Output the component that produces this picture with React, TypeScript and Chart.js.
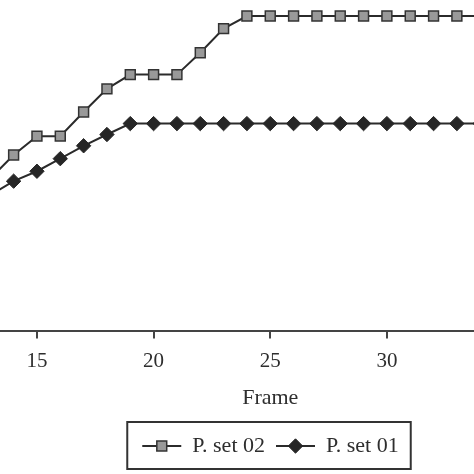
import React, { useEffect, useRef } from "react";
import { Chart, registerables } from "chart.js";

Chart.register(...registerables);

// ---- data ----
const frames = [13, 14, 15, 16, 17, 18, 19, 20, 21, 22, 23, 24, 25, 26, 27, 28, 29, 30, 31, 32, 33, 34];
const pSet02 = [46.2, 53.3, 59.0, 59.0, 66.3, 73.3, 77.6, 77.6, 77.6, 84.2, 91.5, 95.3, 95.3, 95.3, 95.3, 95.3, 95.3, 95.3, 95.3, 95.3, 95.3, 95.3];
const pSet01 = [41.2, 45.4, 48.4, 52.2, 56.1, 59.5, 62.8, 62.8, 62.8, 62.8, 62.8, 62.8, 62.8, 62.8, 62.8, 62.8, 62.8, 62.8, 62.8, 62.8, 62.8, 62.8];
const seriesLabels = ["P. set 02", "P. set 01"];
const xTitle = "Frame";
const xRange = [0, 50];
const xStep = 5;
const yRange = [0, 100];

const FONT = "'Liberation Serif', 'Times New Roman', serif";
const INK = "#2b2b2b";
const TEXT = "#2e2e2e";
const BOX_W = 39;

function drawMarker(ctx: CanvasRenderingContext2D, kind: string, x: number, y: number, r: number, fill: string, stroke: string, bw: number) {
  ctx.beginPath();
  if (kind === "rect") {
    const s = Math.SQRT1_2 * r;
    ctx.rect(x - s, y - s, 2 * s, 2 * s);
  } else {
    ctx.moveTo(x - r, y);
    ctx.lineTo(x, y - r);
    ctx.lineTo(x + r, y);
    ctx.lineTo(x, y + r);
    ctx.closePath();
  }
  ctx.fillStyle = fill;
  ctx.fill();
  ctx.lineWidth = bw;
  ctx.strokeStyle = stroke;
  ctx.stroke();
}

const legendFramePlugin = {
  id: "legendFrame",
  afterDraw(chart: any) {
    const lg = chart.legend;
    if (!lg || !lg.legendHitBoxes || !lg.legendHitBoxes.length) return;
    const hb = lg.legendHitBoxes;
    const ctx: CanvasRenderingContext2D = chart.ctx;
    ctx.save();
    let cy = 0;
    hb.forEach((b: any, i: number) => {
      const ds = chart.data.datasets[i];
      cy = b.top + b.height / 2;
      ctx.beginPath();
      ctx.moveTo(b.left, cy);
      ctx.lineTo(b.left + BOX_W, cy);
      ctx.lineWidth = 2;
      ctx.strokeStyle = INK;
      ctx.stroke();
      drawMarker(ctx, ds.pointStyle, b.left + BOX_W / 2, cy, ds.pointRadius, ds.pointBackgroundColor, ds.pointBorderColor, ds.pointBorderWidth);
    });
    const first = hb[0];
    const last = hb[hb.length - 1];
    const left = first.left - 15;
    const right = last.left + last.width + 12;
    ctx.lineWidth = 2;
    ctx.strokeStyle = "#333";
    ctx.strokeRect(left, cy - 24, right - left, 47);
    ctx.restore();
  },
};

export default function App() {
  const ref = useRef<HTMLCanvasElement | null>(null);

  useEffect(() => {
    if (!ref.current) return;
    const chart = new Chart(ref.current, {
      type: "line",
      data: {
        datasets: [
          {
            label: seriesLabels[0],
            data: frames.map((f, i) => ({ x: f, y: pSet02[i] })),
            borderColor: INK,
            borderWidth: 2,
            pointStyle: "rect",
            pointRadius: 7,
            pointBackgroundColor: "#999999",
            pointBorderColor: "#333333",
            pointBorderWidth: 1.5,
            fill: false,
            tension: 0,
          },
          {
            label: seriesLabels[1],
            data: frames.map((f, i) => ({ x: f, y: pSet01[i] })),
            borderColor: INK,
            borderWidth: 2,
            pointStyle: "rectRot",
            pointRadius: 7.2,
            pointBackgroundColor: "#262626",
            pointBorderColor: "#262626",
            pointBorderWidth: 1,
            fill: false,
            tension: 0,
          },
        ],
      },
      options: {
        animation: false,
        responsive: true,
        maintainAspectRatio: false,
        layout: { padding: { left: 20, right: 20, top: 0, bottom: 7 } },
        scales: {
          x: {
            type: "linear",
            min: xRange[0],
            max: xRange[1],
            grid: { drawOnChartArea: false, drawTicks: true, tickLength: 7, color: "#444", lineWidth: 2 },
            border: { display: true, color: "#444", width: 2 },
            ticks: {
              stepSize: xStep,
              autoSkip: false,
              maxRotation: 0,
              padding: 10,
              color: TEXT,
              font: { family: FONT, size: 21 },
            },
            title: {
              display: true,
              text: xTitle,
              color: TEXT,
              font: { family: FONT, size: 22 },
              padding: { top: 1, bottom: 13 },
            },
          },
          y: {
            display: false,
            min: yRange[0],
            max: yRange[1],
          },
        },
        plugins: {
          tooltip: { enabled: false },
          legend: {
            display: true,
            position: "bottom",
            labels: {
              boxWidth: BOX_W,
              boxHeight: 22,
              padding: 11,
              color: TEXT,
              font: { family: FONT, size: 22 },
              generateLabels: (c: any) =>
                Chart.defaults.plugins.legend.labels.generateLabels(c).map((l: any) => ({
                  ...l,
                  fillStyle: "rgba(0,0,0,0)",
                  strokeStyle: "rgba(0,0,0,0)",
                  lineWidth: 0,
                })),
            },
          },
        },
      },
      plugins: [legendFramePlugin],
    });
    return () => chart.destroy();
  }, []);

  return (
    <div style={{ position: "fixed", left: 0, top: 0, width: 474, height: 474, overflow: "hidden", background: "#fff" }}>
      <div style={{ position: "absolute", left: -333, top: -8, width: 1207, height: 482 }}>
        <canvas ref={ref} />
      </div>
    </div>
  );
}
